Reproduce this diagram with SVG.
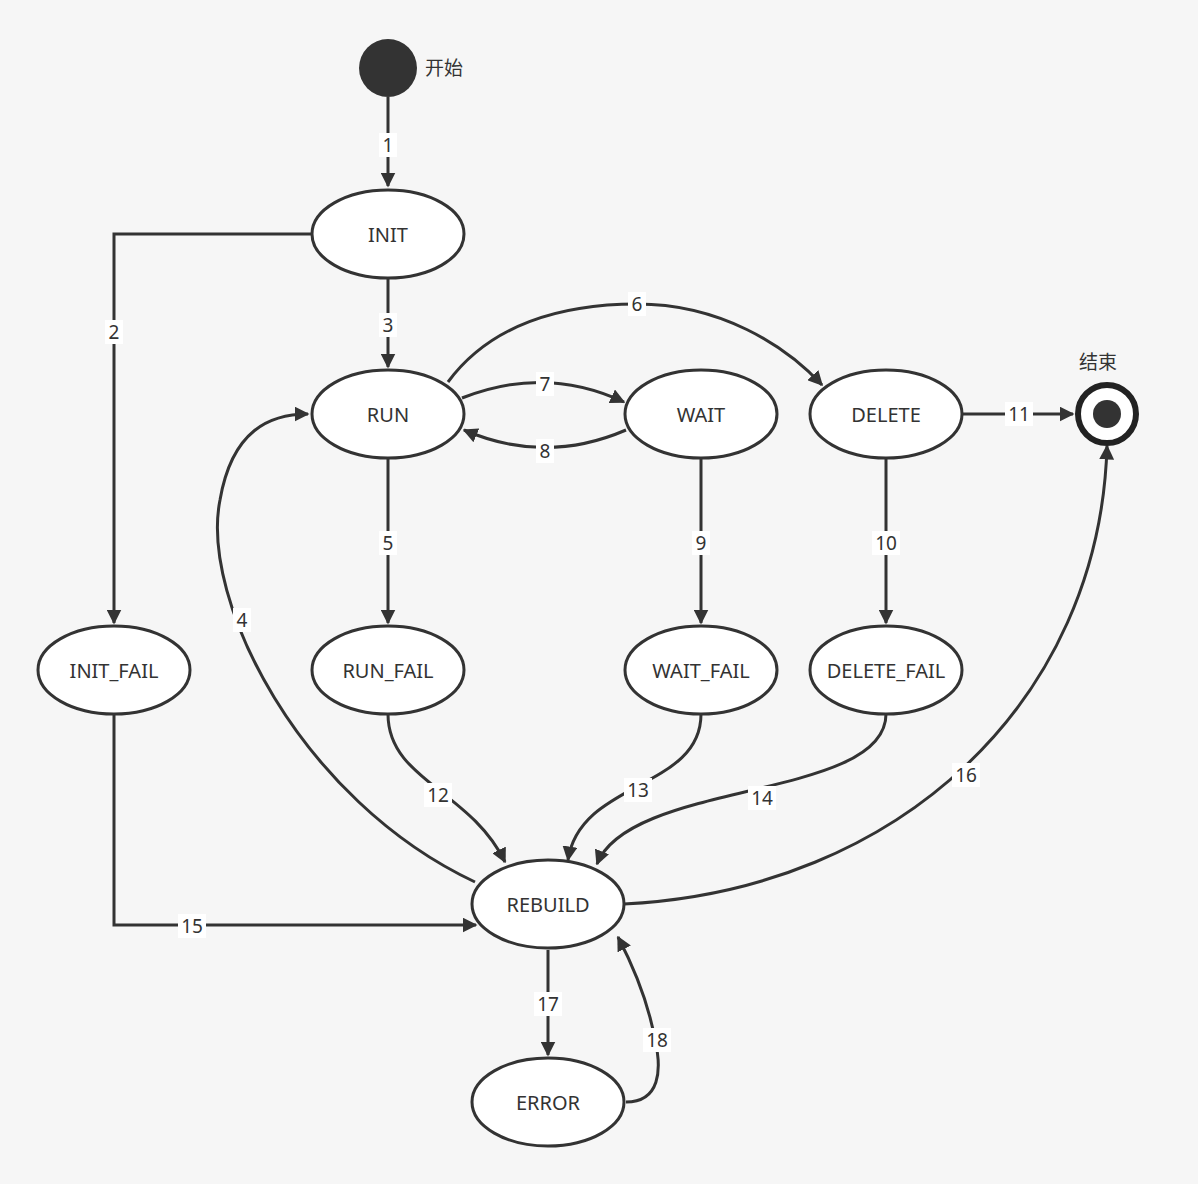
<svg xmlns="http://www.w3.org/2000/svg" width="1198" height="1184" viewBox="0 0 1198 1184">
<defs>
<marker id="a" viewBox="0 0 10 10" refX="9" refY="5" markerWidth="5" markerHeight="5" orient="auto" markerUnits="strokeWidth"><path d="M0,0 L10,5 L0,10 z" fill="#333"/></marker>
<style>
.n{fill:#fff;stroke:#333;stroke-width:3}
.t{font-family:"Noto Sans","Open Sans",sans-serif;font-size:20px;fill:#333;text-anchor:middle;dominant-baseline:central}
.e{fill:none;stroke:#333;stroke-width:3;marker-end:url(#a)}
.lb{fill:#fff}
.l{font-family:"Noto Sans","Open Sans",sans-serif;font-size:19px;fill:#333;text-anchor:middle;dominant-baseline:central}
</style>
</defs>
<rect width="1198" height="1184" fill="#f6f6f6"/>
<g id="connectors">
<path class="e" d="M388,97 L388,186"/>
<path class="e" d="M312,234 L114,234 L114,623"/>
<path class="e" d="M388,278 L388,367"/>
<path class="e" d="M475,882 C300,800 200,600 220,500 C232,430 270,414 308,414"/>
<path class="e" d="M388,458 L388,623"/>
<path class="e" d="M448,382 C490,325 560,304 637,304 C720,304 785,345 822,385"/>
<path class="e" d="M462,398 Q545,365 624,402"/>
<path class="e" d="M626,430 Q545,465 464,430"/>
<path class="e" d="M701,458 L701,623"/>
<path class="e" d="M886,458 L886,623"/>
<path class="e" d="M962,414 L1073,414"/>
<path class="e" d="M388,714 C388,780 470,790 505,862"/>
<path class="e" d="M701,714 C701,790 580,780 568,860"/>
<path class="e" d="M886,714 C886,800 630,780 597,864"/>
<path class="e" d="M114,714 L114,925 L476,925"/>
<path class="e" d="M624,904 C900,890 1100,700 1107,446"/>
<path class="e" d="M548,950 L548,1055"/>
<path class="e" d="M626,1102 C660,1102 662,1070 655,1040 C648,1000 630,960 618,937"/>
</g>
<g id="labels">
<rect class="lb" x="379" y="133" width="18" height="24"/><text class="l" x="388" y="145">1</text>
<rect class="lb" x="105" y="320" width="18" height="24"/><text class="l" x="114" y="332">2</text>
<rect class="lb" x="379" y="313" width="18" height="24"/><text class="l" x="388" y="325">3</text>
<rect class="lb" x="233" y="608" width="18" height="24"/><text class="l" x="242" y="620">4</text>
<rect class="lb" x="379" y="531" width="18" height="24"/><text class="l" x="388" y="543">5</text>
<rect class="lb" x="628" y="292" width="18" height="24"/><text class="l" x="637" y="304">6</text>
<rect class="lb" x="536" y="372" width="18" height="24"/><text class="l" x="545" y="384">7</text>
<rect class="lb" x="536" y="439" width="18" height="24"/><text class="l" x="545" y="451">8</text>
<rect class="lb" x="692" y="531" width="18" height="24"/><text class="l" x="701" y="543">9</text>
<rect class="lb" x="872" y="531" width="28" height="24"/><text class="l" x="886" y="543">10</text>
<rect class="lb" x="1005" y="402" width="28" height="24"/><text class="l" x="1019" y="414">11</text>
<rect class="lb" x="424" y="783" width="28" height="24"/><text class="l" x="438" y="795">12</text>
<rect class="lb" x="624" y="778" width="28" height="24"/><text class="l" x="638" y="790">13</text>
<rect class="lb" x="748" y="786" width="28" height="24"/><text class="l" x="762" y="798">14</text>
<rect class="lb" x="178" y="914" width="28" height="24"/><text class="l" x="192" y="926">15</text>
<rect class="lb" x="952" y="763" width="28" height="24"/><text class="l" x="966" y="775">16</text>
<rect class="lb" x="534" y="992" width="28" height="24"/><text class="l" x="548" y="1004">17</text>
<rect class="lb" x="643" y="1028" width="28" height="24"/><text class="l" x="657" y="1040">18</text>
</g>
<g id="start"><circle cx="388" cy="68" r="29" fill="#333"/><text class="t" x="444" y="66" style="font-family:'Noto Sans CJK SC',sans-serif;font-size:19px">开始</text></g>
<g id="end"><circle cx="1107" cy="414" r="29" fill="#fff" stroke="#222" stroke-width="6"/><circle cx="1107" cy="414" r="14" fill="#333"/><text class="t" x="1098" y="360" style="font-family:'Noto Sans CJK SC',sans-serif;font-size:19px">结束</text></g>
<g id="INIT"><ellipse class="n" cx="388" cy="234" rx="76" ry="44"/><text class="t" x="388" y="234">INIT</text></g>
<g id="RUN"><ellipse class="n" cx="388" cy="414" rx="76" ry="44"/><text class="t" x="388" y="414">RUN</text></g>
<g id="WAIT"><ellipse class="n" cx="701" cy="414" rx="76" ry="44"/><text class="t" x="701" y="414">WAIT</text></g>
<g id="DELETE"><ellipse class="n" cx="886" cy="414" rx="76" ry="44"/><text class="t" x="886" y="414">DELETE</text></g>
<g id="INIT_FAIL"><ellipse class="n" cx="114" cy="670" rx="76" ry="44"/><text class="t" x="114" y="670">INIT_FAIL</text></g>
<g id="RUN_FAIL"><ellipse class="n" cx="388" cy="670" rx="76" ry="44"/><text class="t" x="388" y="670">RUN_FAIL</text></g>
<g id="WAIT_FAIL"><ellipse class="n" cx="701" cy="670" rx="76" ry="44"/><text class="t" x="701" y="670">WAIT_FAIL</text></g>
<g id="DELETE_FAIL"><ellipse class="n" cx="886" cy="670" rx="76" ry="44"/><text class="t" x="886" y="670">DELETE_FAIL</text></g>
<g id="REBUILD"><ellipse class="n" cx="548" cy="904" rx="76" ry="44"/><text class="t" x="548" y="904">REBUILD</text></g>
<g id="ERROR"><ellipse class="n" cx="548" cy="1102" rx="76" ry="44"/><text class="t" x="548" y="1102">ERROR</text></g>
</svg>
